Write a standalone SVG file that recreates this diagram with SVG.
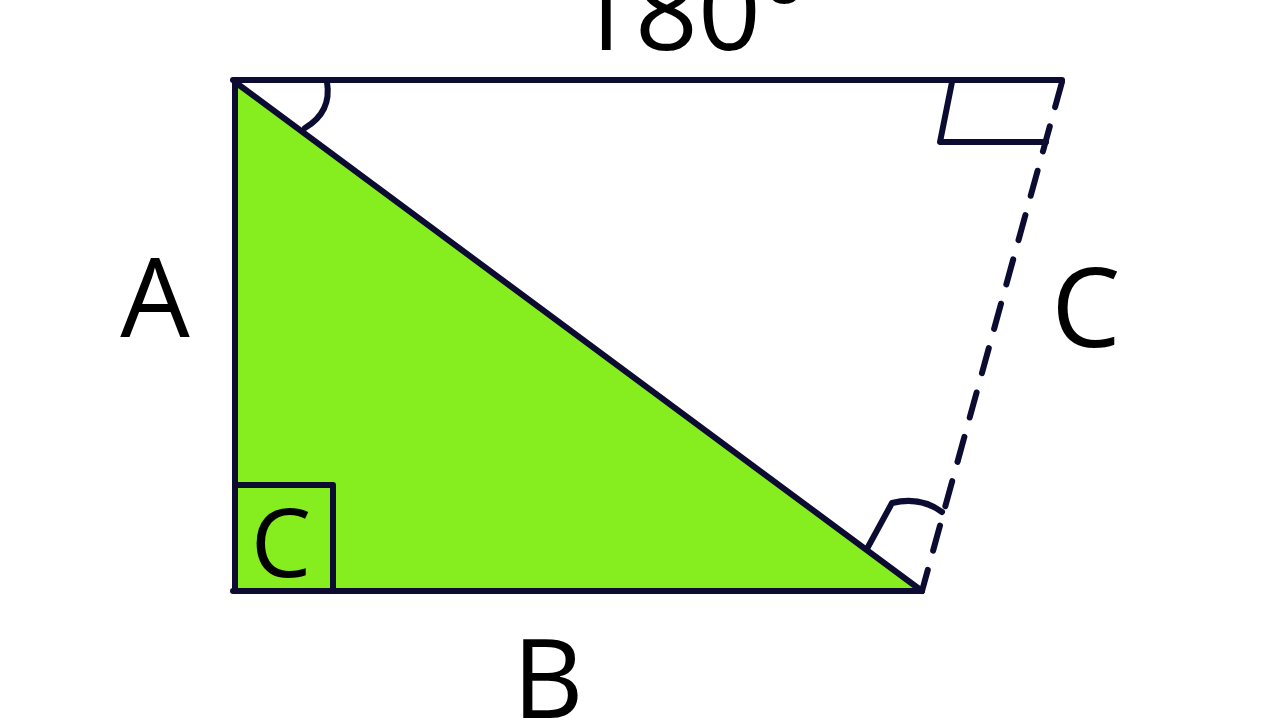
<svg xmlns="http://www.w3.org/2000/svg" width="1280" height="720" viewBox="0 0 1280 720">
<style>
.ln{stroke:#0c0c33;stroke-width:6;fill:none;stroke-linecap:round;stroke-linejoin:round}
.t{font-family:"Open Sans","Liberation Sans",sans-serif;fill:#000;text-anchor:middle}
</style>
<rect width="1280" height="720" fill="#fff"/>
<g id="triangle">
<polygon points="235,82 235,591 922,591" fill="#86EE1E"/>
<line class="ln" x1="235" y1="82" x2="922" y2="591"/>
<line class="ln" x1="235" y1="80" x2="235" y2="591"/>
<line class="ln" x1="233" y1="591" x2="922" y2="591"/>
</g>
<g id="top-line">
<line class="ln" x1="233" y1="80" x2="1062" y2="80"/>
</g>
<g id="connectors">
<line class="ln" x1="1062" y1="82" x2="922" y2="591" stroke-dasharray="26,20" stroke-linecap="butt"/>
</g>
<g id="marks">
<path class="ln" d="M 327 82 Q 332 112 305 128"/>
<path class="ln" d="M 952 82 L 940 142 L 1046 142"/>
<path class="ln" d="M 868 547 L 892 503 Q 920 496 942 512"/>
<path class="ln" d="M 235 485 L 333 485 L 333 591"/>
</g>
<g id="labels">
<text class="t" x="690" y="50" font-size="110">180°</text>
<text class="t" x="155" y="337" font-size="110">A</text>
<text class="t" x="1086" y="347" font-size="110">C</text>
<text class="t" x="548" y="718" font-size="110">B</text>
<text class="t" x="281" y="577" font-size="96">C</text>
</g>
</svg>
